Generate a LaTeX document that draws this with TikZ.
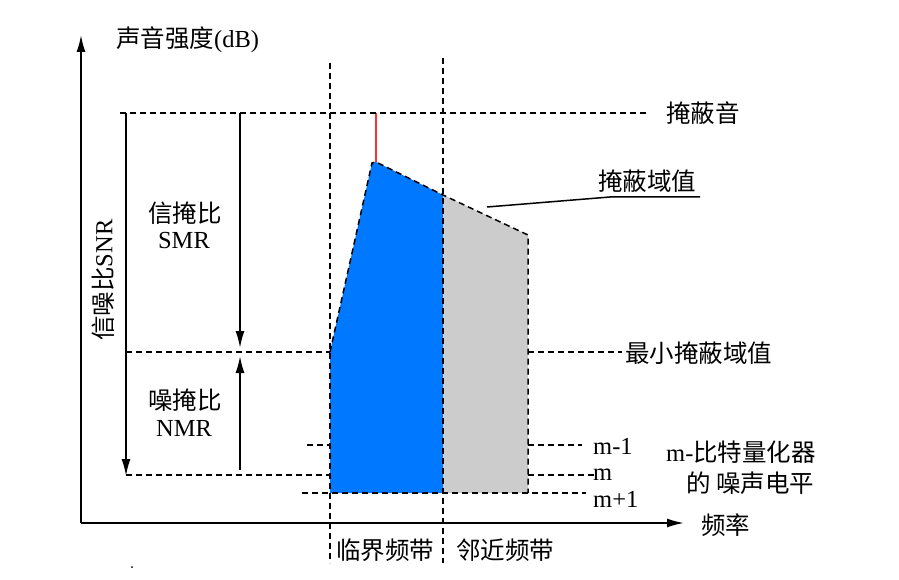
\documentclass[tikz,border=0pt]{standalone}
\usepackage{fontspec}
\setmainfont{Liberation Serif}
\newfontfamily\cjk{Noto Sans CJK SC}
\usetikzlibrary{arrows.meta}
\newcommand\cn[1]{{\cjk #1}}
\definecolor{maskblue}{RGB}{0,120,255}
\definecolor{maskgray}{RGB}{204,204,204}
\definecolor{maskred}{RGB}{255,50,50}
\begin{document}
\begin{tikzpicture}[x=1pt,y=-1pt,
  lbl/.style={inner sep=0pt,font=\fontsize{24.5}{28}\selectfont},
  mlbl/.style={lbl,anchor=base west,text depth=0pt},
  dline/.style={line width=1.5pt,dash pattern=on 6pt off 4pt},
  sline/.style={line width=1.8pt},
  tip/.style={-{Latex[length=17pt,width=9pt]}}]
\useasboundingbox (0,0) rectangle (899,580);
% key points
\coordinate (O) at (81,523);
\coordinate (Ytop) at (81,35);
\coordinate (Xend) at (684,523);
\coordinate (A) at (330,493);
\coordinate (B) at (330,352);
\coordinate (P) at (372,163);
\coordinate (Pt) at (376,162);
\coordinate (Q) at (443,195);
\coordinate (R) at (528,235);
\coordinate (S) at (528,493);
\coordinate (T) at (443,493);
% fills
\fill[maskblue] (A) -- (B) -- (P) -- (Pt) -- (Q) -- (T) -- cycle;
\fill[maskgray] (Q) -- (R) -- (S) -- (T) -- cycle;
% red line
\coordinate (Rtop) at (376,113);
\draw[maskred,line width=1.5pt] (Pt) -- (Rtop);
% axes
\draw[sline,tip] (O) -- (Ytop);
\draw[sline,tip] (O) -- (Xend);
% vertical dashed band lines
\coordinate (V1t) at (330,63);
\coordinate (V1b) at (330,563);
\coordinate (V2t) at (443,58);
\coordinate (V2b) at (443,563);
\draw[dline] (V1t) -- (V1b);
\draw[dline] (V2t) -- (V2b);
% polygon outline
\draw[dline] (B) -- (P) -- (Pt) -- (Q) -- (R) -- (S);
% horizontal dashed lines
\coordinate (H1a) at (120,113);
\coordinate (H1b) at (647,113);
\draw[dline] (H1a) -- (H1b);
\coordinate (H2a) at (126,352);
\coordinate (H2b) at (622,352);
\draw[dline] (H2a) -- (B);
\draw[dline] (R |- B) -- (H2b);
\coordinate (H3a) at (307,445);
\coordinate (H3b) at (582,445);
\draw[dline] (H3a) -- (330,445);
\draw[dline] (528,445) -- (H3b);
\coordinate (H4a) at (126,475);
\coordinate (H4b) at (595,475);
\draw[dline] (H4a) -- (330,475);
\draw[dline] (528,475) -- (H4b);
\coordinate (H5a) at (302,493);
\coordinate (H5b) at (586,493);
\draw[dline] (H5a) -- (H5b);
% ratio arrows
\coordinate (SMRt) at (240,113);
\coordinate (SMRb) at (240,348);
\draw[sline,tip] (SMRt) -- (SMRb);
\coordinate (NMRb) at (240,470);
\coordinate (NMRt) at (240,356);
\draw[sline,tip] (NMRb) -- (NMRt);
\coordinate (SNRt) at (126,113);
\coordinate (SNRb) at (126,476);
\draw[sline,tip] (SNRt) -- (SNRb);
% leader for masking threshold
\coordinate (L1) at (487,207);
\coordinate (L2) at (610,197);
\coordinate (L3) at (700,197);
\draw[line width=1.5pt] (L1) -- (L2) -- (L3);
% dot
\fill (132,567) circle (1pt);
% labels
\node[lbl,anchor=west] (ylab) at (116,40) {\cn{声音强度}(dB)};
\node[lbl,anchor=west] (masker) at (666,113) {\cn{掩蔽音}};
\node[lbl,anchor=west] (thr) at (598,181) {\cn{掩蔽域值}};
\node[lbl,anchor=west] (minthr) at (625,353) {\cn{最小掩蔽域值}};
\node[lbl] (smr1) at (185,213) {\cn{信掩比}};
\node[lbl] (smr2) at (184,241) {SMR};
\node[lbl] (nmr1) at (185,400) {\cn{噪掩比}};
\node[lbl] (nmr2) at (184,428) {NMR};
\node[lbl,rotate=90] (snr) at (103,280) {\cn{信噪比}SNR};
\node[mlbl,text height=16pt] (m1) at (593,454) {m-1};
\node[mlbl,text height=11pt] (m0) at (593,480) {m};
\node[mlbl,text height=16pt] (m2) at (593,507) {m+1};
\node[lbl,anchor=west] (q1) at (666,452) {m-\cn{比特量化器}};
\node[lbl,anchor=west] (q2) at (686,483) {\cn{的 噪声电平}};
\node[lbl,anchor=west] (xlab) at (701,525) {\cn{频率}};
\node[lbl,anchor=west] (cb) at (336,550) {\cn{临界频带}};
\node[lbl,anchor=west] (nb) at (456,550) {\cn{邻近频带}};
\end{tikzpicture}
\end{document}
